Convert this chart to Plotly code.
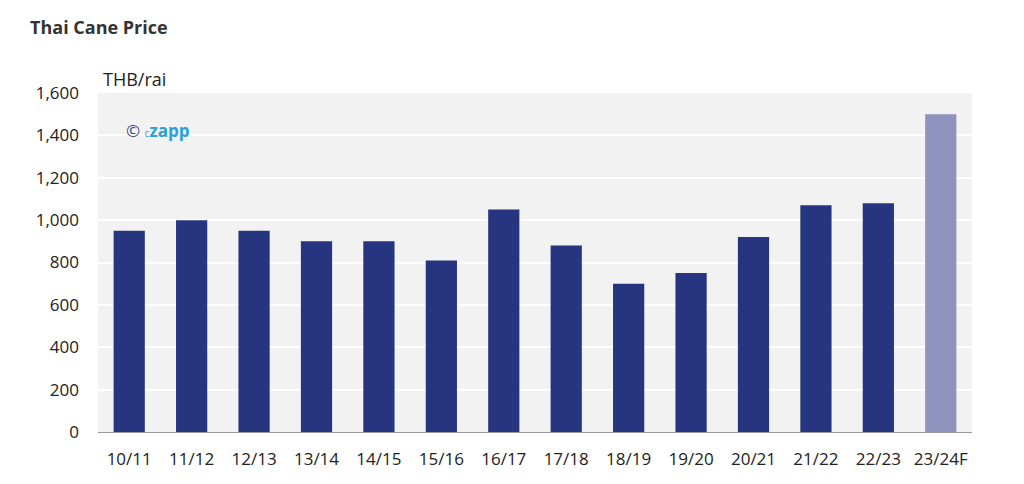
import plotly.graph_objects as go

categories = ["10/11","11/12","12/13","13/14","14/15","15/16","16/17","17/18","18/19","19/20","20/21","21/22","22/23","23/24F"]
values = [950,1000,950,900,900,810,1050,880,700,750,920,1070,1080,1500]
colors = ["#27347f"]*13 + ["#8d93bd"]

fig = go.Figure(go.Bar(x=categories, y=values, marker_color=colors, width=0.5, marker_line_width=0))
fig.update_layout(
    width=1024, height=484, paper_bgcolor="white", plot_bgcolor="#f2f2f2",
    margin=dict(l=90, r=60, t=85, b=60),
    font=dict(family="Open Sans", size=17, color="#222"),
    showlegend=False,
    xaxis=dict(showline=True, linecolor="#999", ticks="", tickfont=dict(size=17), ticklabelstandoff=12),
    yaxis=dict(range=[0,1600], dtick=200, tickformat=",", gridcolor="white", gridwidth=1.5, zeroline=False, ticks="", ticklabelstandoff=18),
    annotations=[
        dict(text="<b>Thai Cane Price</b>", xref="paper", yref="paper", x=-70/874, y=1+(85-19)/339, xanchor="left", yanchor="middle", showarrow=False, font=dict(size=18, color="#333")),
        dict(text="THB/rai", xref="paper", yref="paper", x=0.003, y=1.0, xanchor="left", yanchor="bottom", showarrow=False, font=dict(size=18, color="#222")),
        dict(text="<span style='color:#3a4590'>©</span> <span style='color:#29a0dc;font-size:10px'>c</span><span style='color:#29a0dc'><b>zapp</b></span>", xref="paper", yref="paper", x=0.03, y=(424-122)/339, xanchor="left", yanchor="middle", showarrow=False, font=dict(size=17)),
    ],
)
fig.write_html("out.html")
